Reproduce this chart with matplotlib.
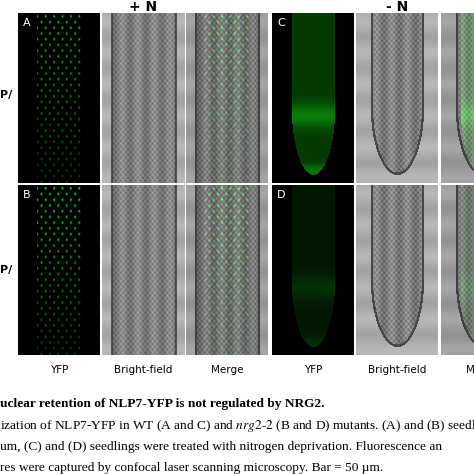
import numpy as np
import matplotlib.pyplot as plt

plt.rcParams['mathtext.fontset'] = 'stix'

W, H = 474, 474
col_left = [18, 102, 186, 272, 356, 441]
col_w = 82
row_top = [13, 185]
row_h = 170
panel_letters = {(0, 0): 'A', (1, 0): 'B', (0, 3): 'C', (1, 3): 'D'}
col_labels = ['YFP', 'Bright-field', 'Merge', 'YFP', 'Bright-field', 'Merge']
# relative YFP brightness per panel (row, treatment)
yfp_level = {(0, 0): 0.75, (1, 0): 0.85, (0, 1): 0.75, (1, 1): 0.3}
caption = [
    ("uclear retention of NLP7-YFP is not regulated by NRG2.", 'bold'),
    ("ization of NLP7-YFP in WT (A and C) and $\\mathit{nrg2\\text{-}2}$ (B and D) mutants. (A) and (B) seedl", 'normal'),
    ("um, (C) and (D) seedlings were treated with nitrogen deprivation. Fluorescence an", 'normal'),
    ("res were captured by confocal laser scanning microscopy. Bar = 50 \u00b5m.", 'normal'),
]

yy, xx = np.mgrid[0:170, 0:82]
xn = (xx - 41) / 41.0
yn = yy / 170.0


def root_mask(tip, width):
    # straight sides, then parabolic taper over the last 40% before the tip
    start = tip - 0.4
    frac = np.clip((yn - start) / 0.4, 0, 1)
    half = width * np.sqrt(np.clip(1 - frac ** 2, 0, 1))
    return (np.abs(xn) < half) & (yn < tip)


def make_images(level, dots, tip, width):
    m = root_mask(tip, width)
    inner = root_mask(tip - 0.015, width - 0.05)
    tex = 0.5 + 0.1 * np.sin(xx * 1.3) * np.sin(yy * 1.1) + 0.06 * np.sin(xx * 0.4)
    bf = np.where(m, tex, 0.68 + 0.04 * np.sin(yy * 0.2))
    bf = np.where(m & ~inner, 0.28, bf)
    bf_rgb = np.dstack([bf, bf, bf])
    if dots:
        g = (np.sin(xx * 0.75) * np.sin(yy * 0.55)).clip(0) ** 3
        g = g * (np.abs(xn) < 0.55) * (1 - 0.7 * yn)
    else:
        g = 0.3 + 0.35 * np.exp(-((yn - 0.6) / 0.07) ** 2) + 0.3 * np.exp(-((yn - 0.93) / 0.04) ** 2)
        g = g * root_mask(tip, width - 0.12)
    g = np.clip(g * level, 0, 1)
    yfp = np.dstack([g * 0.08, g, g * 0.08])
    merge = np.clip(bf_rgb * 0.9 + np.dstack([0 * g, g * 0.6, 0 * g]), 0, 1)
    return yfp, bf_rgb, merge


fig = plt.figure(figsize=(W / 100, H / 100), dpi=100)
for r in range(2):
    for t in range(2):
        if t == 0:
            imgs = make_images(yfp_level[(r, t)], True, 1.35, 0.8)
        else:
            imgs = make_images(yfp_level[(r, t)], False, 0.95, 0.65)
        for k in range(3):
            c = t * 3 + k
            ax = fig.add_axes([col_left[c] / W, 1 - (row_top[r] + row_h) / H,
                               col_w / W, row_h / H])
            ax.imshow(imgs[k], aspect='auto', interpolation='bilinear')
            ax.set_axis_off()
            if (r, c) in panel_letters:
                ax.text(0.06, 0.97, panel_letters[(r, c)], color='white',
                        fontsize=8, transform=ax.transAxes, va='top')

fig.text((col_left[1] + col_w / 2) / W, 1 - 7 / H, '+ N', ha='center', va='center',
         fontsize=10, fontweight='bold')
fig.text((col_left[4] + col_w / 2) / W, 1 - 7 / H, '- N', ha='center', va='center',
         fontsize=10, fontweight='bold')
fig.text(0, 1 - 95 / H, 'P/', fontsize=8, fontweight='bold', va='center')
fig.text(0, 1 - 270 / H, 'P/', fontsize=8, fontweight='bold', va='center')
for c, lab in enumerate(col_labels):
    fig.text((col_left[c] + col_w / 2) / W, 1 - 370 / H, lab, ha='center',
             va='center', fontsize=7.5, clip_on=True)
for i, (line, wt) in enumerate(caption):
    fig.text(0, 1 - (404 + i * 21.5) / H, line, fontsize=9.6, fontweight=wt,
             family='Liberation Serif', va='center')

fig.savefig('out.png', dpi=100)
